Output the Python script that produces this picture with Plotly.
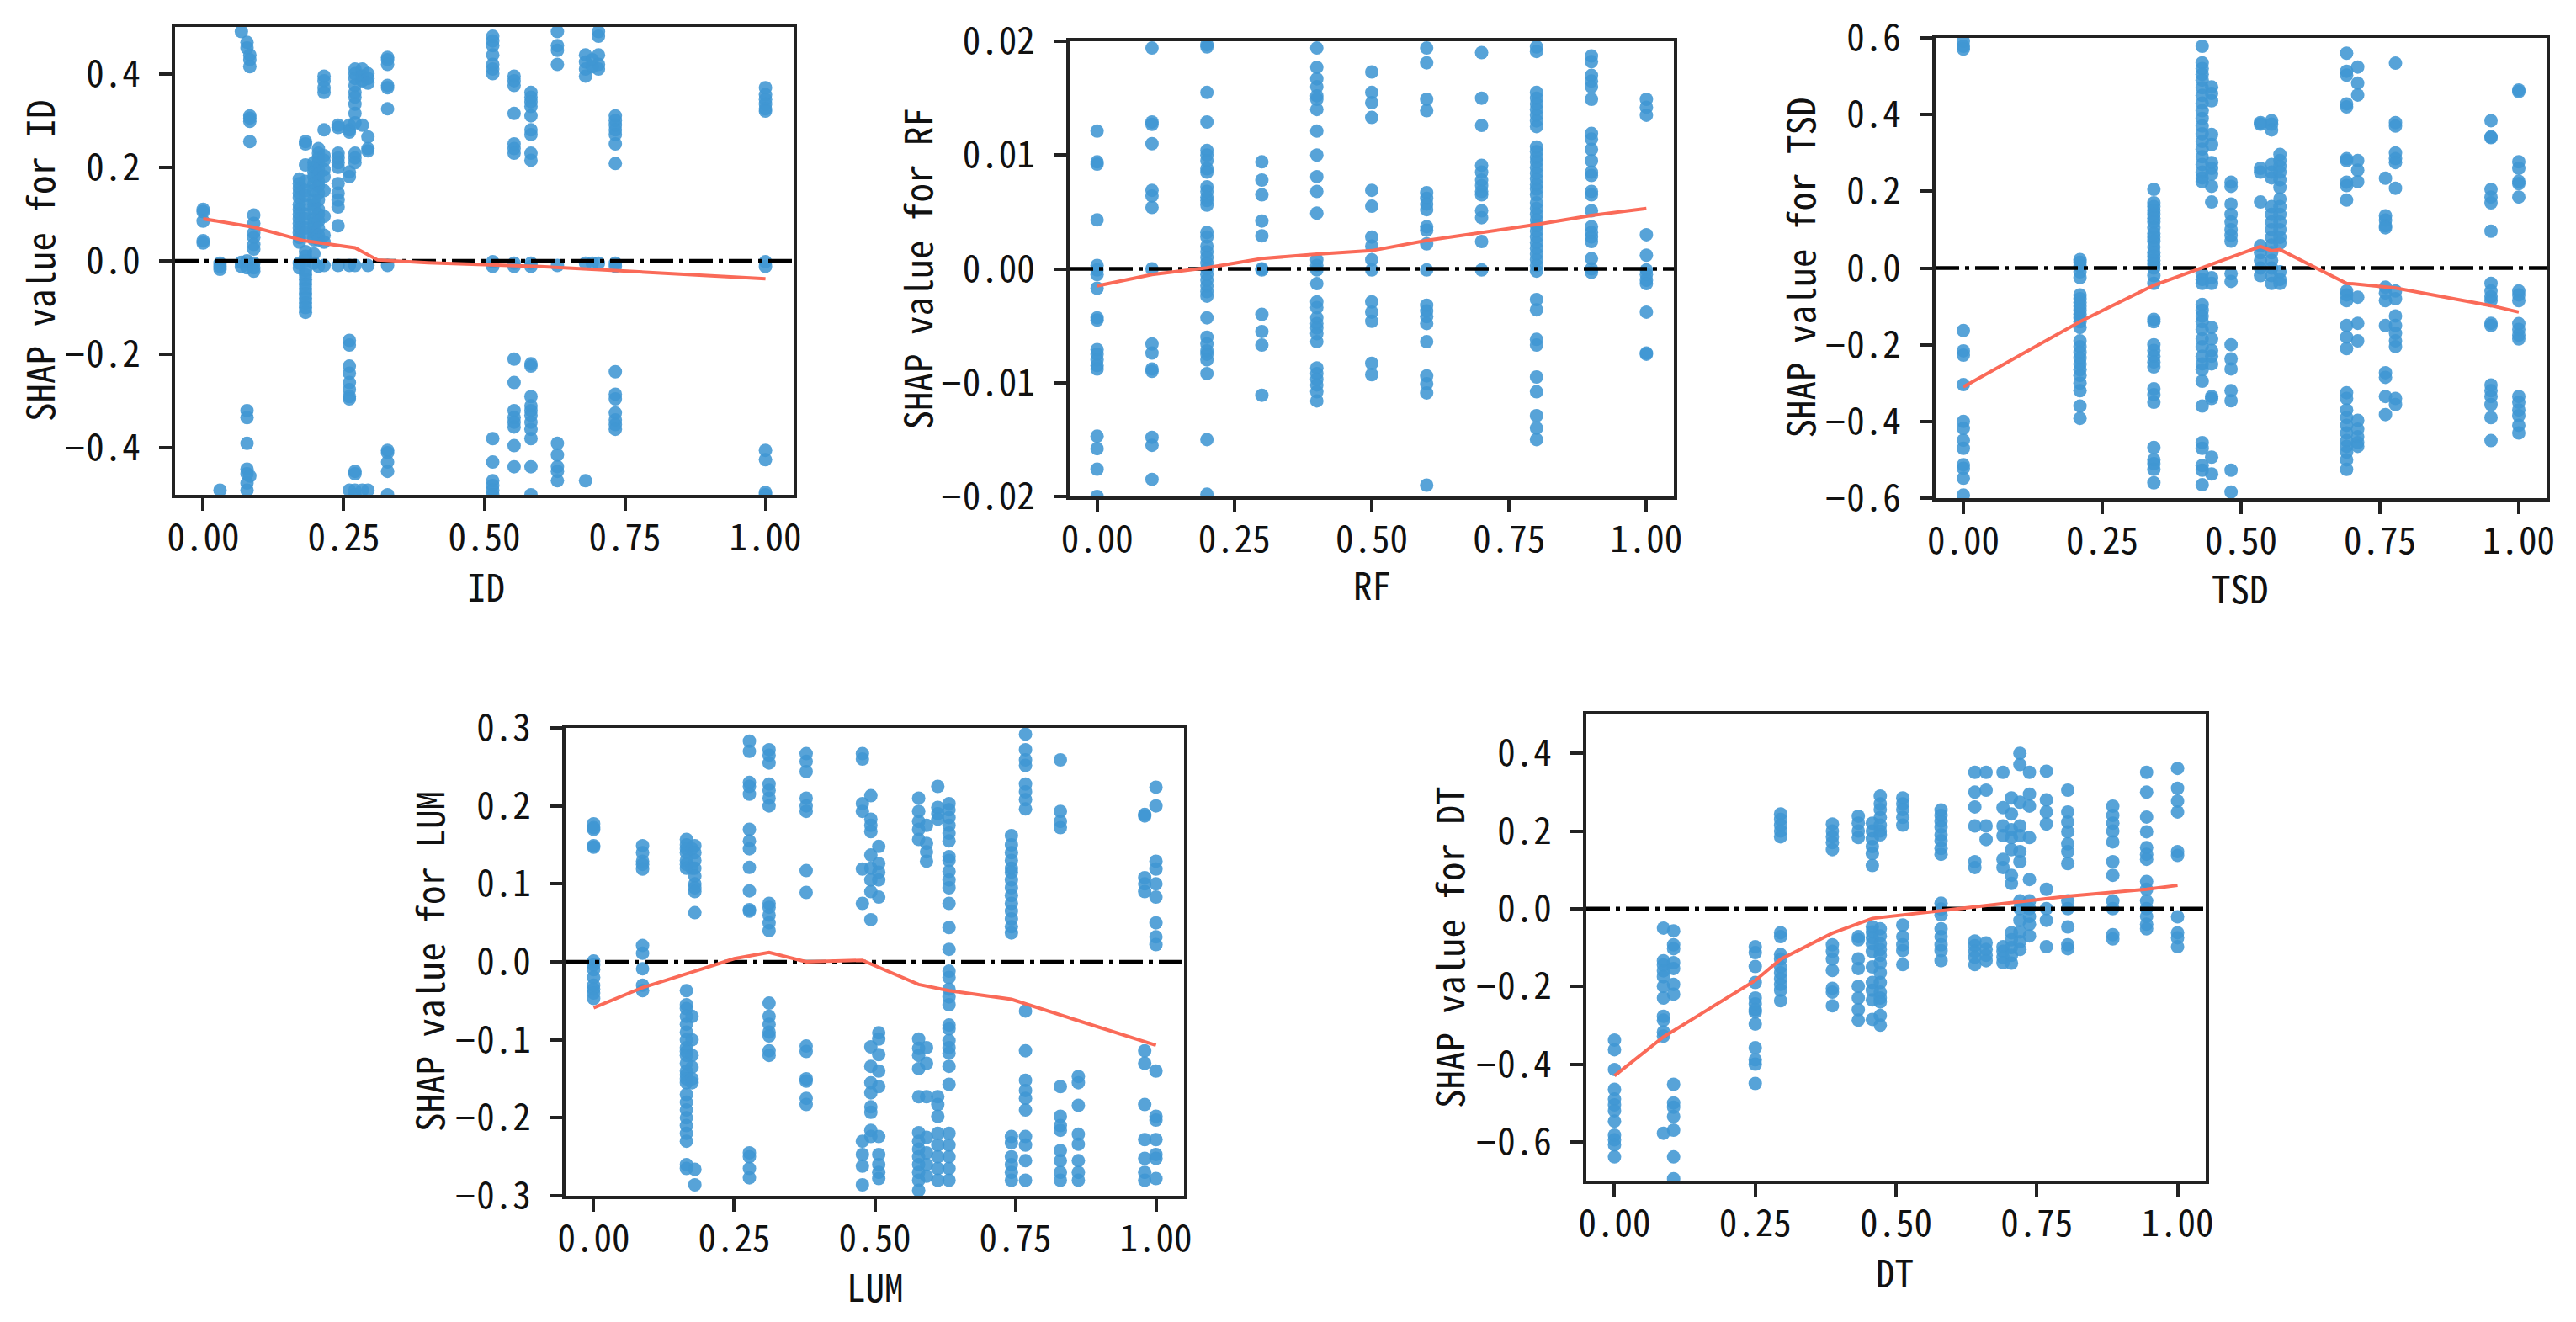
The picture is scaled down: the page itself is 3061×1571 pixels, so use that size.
import plotly.graph_objects as go

W, H = 3061, 1571
FONT = "'Noto Sans Mono CJK SC', 'Liberation Mono', monospace"
DOT = "#4096d3"
RED = "#fa6a58"
MINUS = '<span style="font-family:Liberation Mono">\u2212</span>'

xticks = [0, 0.25, 0.5, 0.75, 1.0]
xtick_text = ["0.00", "0.25", "0.50", "0.75", "1.00"]

# ---------- ID ----------
id_x = [0.0, 0.03, 0.068, 0.078, 0.083, 0.09, 0.171, 0.182, 0.197, 0.205, 0.215, 0.24, 0.26, 0.27, 0.283, 0.293, 0.328, 0.515, 0.553, 0.583, 0.63, 0.68, 0.692, 0.703, 0.733, 1.0]
id_y = [
 [0.11,0.105,0.085,0.043,0.038],
 [-0.005,-0.012,-0.018,-0.49],
 [0.49,-0.003,-0.012],
 [0.467,0.455,-0.32,-0.335,-0.39,-0.445,-0.455,-0.475,-0.49,0.0,-0.015],
 [0.44,0.43,0.415,0.31,0.305,0.298,0.255,-0.46],
 [0.098,0.08,0.06,0.05,0.035,0.025,-0.005,-0.015,-0.022],
 [0.175,0.165,0.155,0.145,0.135,0.12,0.11,0.1,0.09,0.08,0.07,0.06,0.05,0.04,-0.005,-0.015],
 [0.255,0.25,0.205,0.17,0.15,0.14,0.12,0.1,0.09,0.07,0.06,0.02,0.01,0.0,-0.02,-0.03,-0.04,-0.05,-0.06,-0.07,-0.08,-0.09,-0.1,-0.11],
 [0.21,0.2,0.19,0.18,0.165,0.15,0.13,0.12,0.11,0.09,0.08,0.07,0.06,0.05,0.045,0.015,-0.005],
 [0.24,0.23,0.22,0.21,0.195,0.185,0.17,0.16,0.145,0.13,0.11,0.1,0.085,0.07,0.055,0.045,-0.012],
 [0.395,0.385,0.37,0.36,0.28,0.225,0.215,0.195,0.18,0.15,0.095,0.055,0.04,-0.01],
 [0.29,0.285,0.23,0.22,0.21,0.2,0.165,0.145,0.13,0.115,0.075,-0.01],
 [0.29,0.28,0.275,0.19,0.18,-0.01,-0.17,-0.18,-0.225,-0.24,-0.26,-0.275,-0.29,-0.295,-0.49],
 [0.41,0.4,0.39,0.375,0.36,0.35,0.335,0.315,0.295,0.23,0.22,0.21,-0.01,-0.45,-0.455,-0.49,-0.5],
 [0.41,0.395,0.385,0.29,-0.49],
 [0.4,0.39,0.38,0.265,0.24,0.235,-0.01,-0.49],
 [0.435,0.43,0.42,0.375,0.37,0.325,-0.01,-0.405,-0.41,-0.43,-0.45,-0.5],
 [0.48,0.47,0.46,0.44,0.42,0.41,0.40,-0.002,-0.012,-0.38,-0.43,-0.47,-0.48,-0.49,-0.5],
 [0.395,0.385,0.375,0.315,0.25,0.24,0.23,-0.005,-0.012,-0.21,-0.26,-0.32,-0.335,-0.345,-0.355,-0.395,-0.44],
 [0.36,0.35,0.34,0.33,0.31,0.28,0.27,0.23,0.215,-0.005,-0.012,-0.22,-0.225,-0.29,-0.31,-0.32,-0.33,-0.345,-0.36,-0.38,-0.44,-0.5],
 [0.49,0.46,0.45,0.42,-0.01,-0.39,-0.415,-0.44,-0.45,-0.47],
 [0.44,0.425,0.41,0.395,-0.005,-0.47],
 [0.43,0.415,-0.005],
 [0.49,0.48,0.44,0.42,0.41,-0.005],
 [0.31,0.30,0.29,0.28,0.27,0.25,0.208,-0.005,-0.012,-0.237,-0.285,-0.295,-0.325,-0.34,-0.35,-0.36],
 [0.37,0.355,0.345,0.335,0.325,0.32,-0.002,-0.012,-0.405,-0.425,-0.495,-0.5],
]
id_line_x = [0, 0.09, 0.18, 0.27, 0.31, 0.4, 0.6, 0.73, 1.0]
id_line_y = [0.09, 0.072, 0.043, 0.028, 0.002, -0.004, -0.012, -0.021, -0.038]

# ---------- RF ----------
rf_x = [0.0, 0.1, 0.2, 0.3, 0.4, 0.5, 0.6, 0.7, 0.8, 0.9, 1.0]
rf_y = [
 [.0121,.0094,.0092,.0043,.0003,-.0001,-.0005,-.0017,-.0043,-.0045,-.0071,-.0075,-.008,-.0085,-.0088,-.0147,-.0158,-.0176,-.02],
 [.0194,.0129,.0127,.0110,.0069,.0064,.0054,0,-.0066,-.0074,-.0088,-.0090,-.0148,-.0155,-.0185],
 [.0197,.0195,.0155,.0129,.0104,.0100,.0095,.0088,.0085,.0072,.0068,.0063,.006,.0056,.0032,.0028,.002,.0015,.001,.0005,0,-.0005,-.001,-.0015,-.002,-.0024,-.0043,-.006,-.0066,-.0072,-.0075,-.008,-.0092,-.015,-.0198],
 [.0094,.0078,.0065,.0042,.0029,0,-.0001,-.004,-.0055,-.0067,-.0111],
 [.0194,.0177,.0167,.016,.0152,.0149,.014,.0121,.01,.0081,.0068,.0049,.0008,.0003,-.0001,-.0013,-.0029,-.0034,-.0043,-.0048,-.0052,-.0057,-.0064,-.0087,-.0092,-.0097,-.0102,-.0108,-.0116],
 [.0173,.0155,.0146,.0133,.0069,.0055,.0028,.002,.0008,-.0001,-.0029,-.0038,-.0046,-.0083,-.0093],
 [.0194,.0181,.0149,.0139,.0067,.0062,.0057,.0052,.0037,.0034,.0022,-.0001,-.0032,-.0037,-.0042,-.0048,-.0064,-.0094,-.0101,-.0109,-.019],
 [.019,.015,.0126,.0091,.0085,.0078,.0073,.0068,.0065,.0051,.0045,.0024,-.0001],
 [.0195,.0191,.0155,.015,.0145,.014,.0135,.013,.0125,.0107,.0103,.0098,.0094,.0089,.0084,.0079,.0074,.007,.0065,.0058,.0053,.0048,.0043,.0038,.0033,.0028,.0023,.0018,.0013,.0008,.0003,-.0002,-.0027,-.0036,-.0062,-.0067,-.0095,-.0108,-.0129,-.014,-.015],
 [.0187,.0182,.017,.0165,.016,.0149,.0119,.0114,.0105,.0095,.0085,.0082,.0068,.0065,.0051,.0037,.0032,.0028,.0024,.0009,0,-.0003],
 [.0149,.0142,.0135,.003,.0012,-.0001,-.0005,-.001,-.0013,-.0038,-.0074,-.0075],
]
rf_line_x = [0, 0.1, 0.2, 0.3, 0.4, 0.5, 0.6, 0.7, 0.8, 0.9, 1.0]
rf_line_y = [-.0015, -.0005, .0001, .0009, .0013, .0016, .0025, .0032, .0039, .0047, .0053]

# ---------- TSD ----------
tsd_x = [0.0, 0.21, 0.343, 0.43, 0.447, 0.482, 0.535, 0.555, 0.57, 0.69, 0.71, 0.76, 0.778, 0.95, 1.0]
tsd_y = [
 [.591,.578,.571,-.163,-.216,-.227,-.304,-.40,-.418,-.449,-.47,-.513,-.522,-.548,-.592],
 [.022,.015,.005,-.01,-.025,-.07,-.08,-.09,-.10,-.11,-.12,-.13,-.14,-.155,-.19,-.205,-.22,-.235,-.25,-.265,-.28,-.30,-.32,-.36,-.392],
 [.205,.17,.16,.15,.14,.13,.12,.105,.09,.08,.07,.055,.04,.03,.02,.01,0,-.02,-.04,-.134,-.14,-.2,-.215,-.23,-.245,-.258,-.315,-.33,-.35,-.468,-.5,-.51,-.525,-.56],
 [.578,.535,.52,.505,.49,.47,.45,.43,.41,.39,.37,.35,.33,.31,.29,.27,.25,.235,.225,-.015,-.03,-.04,-.095,-.11,-.125,-.14,-.16,-.185,-.205,-.23,-.25,-.265,-.295,-.36,-.455,-.47,-.515,-.527,-.565],
 [.472,.455,.436,.348,.322,.275,.26,.245,.213,.172,-.025,-.04,-.155,-.185,-.215,-.23,-.25,-.335,-.34,-.493,-.537],
 [.224,.213,.167,.14,.12,.10,.085,.07,-.015,-.035,-.2,-.237,-.263,-.32,-.346,-.527,-.584],
 [.379,.375,.26,.25,.172,.058,.04,.02,.0,-.02],
 [.384,.375,.36,.27,.25,.235,.16,.14,.12,.10,.08,.06,.04,.02,0,-.02,-.04],
 [.296,.28,.265,.25,.23,.21,.18,.16,.14,.12,.10,.08,.065,-.01,-.03,-.04],
 [.56,.513,.503,.428,.42,.285,.28,.224,.215,.177,-.06,-.07,-.085,-.15,-.18,-.21,-.325,-.34,-.37,-.39,-.41,-.43,-.45,-.465,-.48,-.50,-.525],
 [.524,.482,.451,.28,.255,.225,-.076,-.144,-.19,-.397,-.42,-.44,-.455,-.465],
 [.234,.136,.125,.11,.105,-.05,-.065,-.085,-.15,-.273,-.285,-.335,-.382],
 [.534,.379,.37,.30,.285,.275,.208,-.06,-.08,-.125,-.15,-.17,-.19,-.205,-.34,-.356],
 [.384,.342,.34,.205,.185,.17,.096,-.04,-.06,-.075,-.085,-.144,-.15,-.305,-.32,-.335,-.356,-.39,-.45],
 [.464,.46,.277,.26,.226,.22,.185,-.06,-.07,-.085,-.145,-.16,-.175,-.185,-.335,-.35,-.37,-.385,-.41,-.43],
]
tsd_line_x = [0, 0.21, 0.343, 0.43, 0.535, 0.555, 0.57, 0.69, 0.71, 0.778, 0.95, 1.0]
tsd_line_y = [-.31, -.14, -.045, 0.0, .056, .045, .048, -.04, -.042, -.052, -.098, -.115]

# ---------- LUM ----------
lum_x = [0.0, 0.087, 0.165, 0.175, 0.18, 0.277, 0.312, 0.378, 0.478, 0.493, 0.507, 0.578, 0.592, 0.612, 0.632, 0.743, 0.768, 0.83, 0.862, 0.98, 1.0]
lum_y = [
 [.177,.172,.17,.149,.147,.001,-.004,-.01,-.02,-.03,-.035,-.04,-.047],
 [.149,.14,.129,.125,.119,.021,.011,-.009,-.03,-.037],
 [.157,.15,.145,.14,.13,.125,.12,-.037,-.055,-.06,-.07,-.08,-.09,-.1,-.11,-.115,-.12,-.13,-.14,-.145,-.15,-.155,-.17,-.18,-.19,-.2,-.21,-.22,-.23,-.26,-.265],
 [.145,.12,-.07,-.1,-.12,-.135,-.15,-.155],
 [.149,.14,.13,.12,.11,.1,.095,.09,.063,-.266,-.286],
 [.283,.27,.23,.225,.215,.17,.155,.145,.121,.091,.067,.065,-.245,-.25,-.265,-.277],
 [.272,.265,.255,.228,.22,.21,.2,.075,.07,.06,.05,.04,-.053,-.07,-.08,-.09,-.095,-.114,-.12],
 [.267,.257,.244,.21,.2,.193,.117,.089,-.108,-.115,-.15,-.153,-.175,-.183],
 [.267,.26,.203,.193,.119,.075,-.23,-.247,-.262,-.286],
 [.213,.183,.175,.167,.137,.12,.105,.09,.054,-.109,-.134,-.155,-.168,-.186,-.193,-.216,-.224],
 [.148,.126,.115,.105,.083,-.091,-.099,-.119,-.14,-.16,-.224,-.247,-.26,-.27,-.278],
 [.21,.193,.18,.17,.157,-.099,-.111,-.12,-.137,-.173,-.219,-.23,-.24,-.25,-.26,-.27,-.28,-.293],
 [.175,.152,.141,.129,-.11,-.13,-.173,-.225,-.245,-.26,-.275],
 [.225,.198,.19,.183,-.173,-.183,-.198,-.22,-.235,-.25,-.265,-.28],
 [.203,.195,.185,.175,.165,.155,.135,.13,.116,.105,.095,.075,.044,.016,-.012,-.02,-.035,-.045,-.055,-.081,-.086,-.101,-.11,-.117,-.134,-.157,-.22,-.235,-.25,-.265,-.28],
 [.162,.15,.14,.13,.12,.115,.105,.095,.085,.075,.065,.055,.045,.037,-.224,-.232,-.25,-.26,-.27,-.28],
 [.292,.272,.259,.252,.228,.218,.208,.196,-.063,-.114,-.152,-.165,-.175,-.19,-.224,-.235,-.255,-.28],
 [.259,.193,.18,.172,-.16,-.198,-.21,-.216,-.242,-.255,-.27,-.28],
 [-.147,-.155,-.184,-.221,-.234,-.255,-.27,-.28],
 [.189,.187,.108,.1,.09,-.114,-.13,-.183,-.228,-.252,-.27,-.28],
 [.224,.2,.129,.119,.1,.083,.05,.032,.022,-.14,-.198,-.203,-.228,-.247,-.252,-.278],
]
lum_line_x = [0, 0.087, 0.18, 0.25, 0.312, 0.378, 0.478, 0.578, 0.632, 0.743, 0.86, 1.0]
lum_line_y = [-.059, -.033, -.012, .004, .012, .0, .002, -.029, -.037, -.048, -.075, -.107]

# ---------- DT ----------
dt_x = [0.0, 0.087, 0.105, 0.25, 0.295, 0.387, 0.433, 0.458, 0.472, 0.512, 0.58, 0.64, 0.66, 0.69, 0.705, 0.72, 0.737, 0.767, 0.805, 0.885, 0.945, 1.0]
dt_y = [
 [-.338,-.363,-.414,-.465,-.49,-.505,-.52,-.547,-.583,-.595,-.608,-.639],
 [-.05,-.134,-.145,-.16,-.175,-.2,-.23,-.277,-.287,-.317,-.328,-.578],
 [-.057,-.093,-.103,-.139,-.154,-.195,-.22,-.452,-.5,-.511,-.535,-.57,-.639,-.695],
 [-.098,-.113,-.149,-.19,-.23,-.245,-.26,-.266,-.297,-.358,-.389,-.4,-.45],
 [.244,.23,.215,.2,.185,-.062,-.072,-.118,-.13,-.15,-.165,-.18,-.195,-.21,-.237],
 [.218,.2,.185,.17,.152,-.093,-.11,-.13,-.159,-.205,-.215,-.25],
 [.238,.22,.2,.183,-.072,-.08,-.129,-.154,-.2,-.23,-.26,-.287],
 [.22,.2,.18,.16,.142,.111,-.047,-.06,-.075,-.09,-.11,-.15,-.19,-.21,-.235,-.285],
 [.29,.27,.255,.235,.215,.2,.19,-.052,-.07,-.09,-.105,-.12,-.14,-.165,-.19,-.215,-.23,-.24,-.275,-.3],
 [.285,.27,.255,.235,.215,-.042,-.072,-.093,-.108,-.144],
 [.254,.24,.225,.21,.19,.175,.155,.14,.014,-.001,-.016,-.052,-.072,-.093,-.108,-.134],
 [.351,.3,.262,.213,.121,.106,-.083,-.095,-.11,-.125,-.144],
 [.351,.305,.213,.178,-.088,-.105,-.12,-.134],
 [.351,.26,.213,.188,.127,.106,-.098,-.11,-.125,-.139],
 [.285,.244,.203,.183,.152,.086,.065,-.062,-.08,-.1,-.12,-.14],
 [.4,.371,.274,.213,.188,.147,.121,.02,0,-.03,-.06,-.085,-.105],
 [.351,.295,.264,.183,.075,.02,0,-.02,-.04,-.07],
 [.354,.28,.249,.218,.05,0,-.03,-.098],
 [.305,.249,.223,.198,.167,.147,.116,.02,0,-.047,-.093,-.103],
 [.264,.24,.22,.2,.172,.121,.086,.02,0,-.067,-.078],
 [.351,.3,.236,.198,.157,.14,.127,.07,.05,.02,0,-.02,-.04,-.052],
 [.361,.31,.277,.249,.147,.137,-.021,-.062,-.075,-.098],
]
dt_line_x = [0, 0.087, 0.25, 0.295, 0.387, 0.458, 0.58, 0.72, 0.805, 0.945, 1.0]
dt_line_y = [-.43, -.33, -.185, -.13, -.063, -.025, -.005, .018, .032, .05, .06]

# Panel frames in page pixels, y ticks and labels
panels = [
 dict(name="ID",  cols=id_x,  vals=id_y,  lx=id_line_x,  ly=id_line_y,  box=(208, 943, 32, 588), yr=(-0.5, 0.5),
      yt=[-0.4,-0.2,0,0.2,0.4], ytt=[MINUS+"0.4",MINUS+"0.2","0.0","0.2","0.4"], tx=45, nx=577, ny=695),
 dict(name="RF",  cols=rf_x,  vals=rf_y,  lx=rf_line_x,  ly=rf_line_y,  box=(1271, 1989, 49, 590), yr=(-0.02, 0.02),
      yt=[-0.02,-0.01,0,0.01,0.02], ytt=[MINUS+"0.02",MINUS+"0.01","0.00","0.01","0.02"], tx=1088, nx=1630, ny=693),
 dict(name="TSD", cols=tsd_x, vals=tsd_y, lx=tsd_line_x, ly=tsd_line_y, box=(2300, 3026, 45, 592), yr=(-0.6, 0.6),
      yt=[-0.6,-0.4,-0.2,0,0.2,0.4,0.6], ytt=[MINUS+"0.6",MINUS+"0.4",MINUS+"0.2","0.0","0.2","0.4","0.6"], tx=2137, nx=2662, ny=698),
 dict(name="LUM", cols=lum_x, vals=lum_y, lx=lum_line_x, ly=lum_line_y, box=(672, 1407, 865, 1421), yr=(-0.3, 0.3),
      yt=[-0.3,-0.2,-0.1,0,0.1,0.2,0.3], ytt=[MINUS+"0.3",MINUS+"0.2",MINUS+"0.1","0.0","0.1","0.2","0.3"], tx=508, nx=1040, ny=1527),
 dict(name="DT",  cols=dt_x,  vals=dt_y,  lx=dt_line_x,  ly=dt_line_y,  box=(1885, 2621, 849, 1403), yr=(-0.7, 0.5),
      yt=[-0.6,-0.4,-0.2,0,0.2,0.4], ytt=[MINUS+"0.6",MINUS+"0.4",MINUS+"0.2","0.0","0.2","0.4"], tx=1720, nx=2251, ny=1510),
]

fig = go.Figure()
annotations = []
layout = dict(width=W, height=H, margin=dict(l=0, r=0, t=0, b=0), autosize=False,
              paper_bgcolor="white", plot_bgcolor="white", showlegend=False,
              font=dict(family=FONT, size=43, color="#111111"))

for i, p in enumerate(panels, start=1):
    sx = "" if i == 1 else str(i)
    xs, ys = [], []
    for c, v in zip(p["cols"], p["vals"]):
        xs += [c] * len(v)
        ys += v
    fig.add_trace(go.Scatter(x=xs, y=ys, xaxis="x" + sx, yaxis="y" + sx, mode="markers",
                             marker=dict(color=DOT, size=16, opacity=0.88, line=dict(width=0))))
    fig.add_trace(go.Scatter(x=[-0.05, 1.05], y=[0, 0], xaxis="x" + sx, yaxis="y" + sx, mode="lines",
                             line=dict(color="black", width=4.5, dash="28px,7px,5px,7px")))
    fig.add_trace(go.Scatter(x=p["lx"], y=p["ly"], xaxis="x" + sx, yaxis="y" + sx, mode="lines",
                             line=dict(color=RED, width=4)))
    l, r, t, b = p["box"]
    common = dict(showline=True, mirror=True, linecolor="#222222", linewidth=3.5, showgrid=False,
                  zeroline=False, ticks="outside", ticklen=15, tickwidth=3.5, tickcolor="#222222",
                  tickfont=dict(family=FONT, size=43, color="#111111"), automargin=False)
    layout["xaxis" + sx] = dict(domain=[l / W, r / W], range=[-0.05, 1.05], anchor="y" + sx,
                                tickmode="array", tickvals=xticks, ticktext=xtick_text, ticklabelstandoff=-4,
                                **common)
    layout["yaxis" + sx] = dict(domain=[1 - b / H, 1 - t / H], range=list(p["yr"]), anchor="x" + sx,
                                tickmode="array", tickvals=p["yt"], ticktext=p["ytt"], ticklabelstandoff=14,
                                **common)
    annotations.append(dict(text="SHAP value for " + p["name"], textangle=-90, showarrow=False,
                            xref="paper", yref="paper", x=p["tx"] / W, y=1 - (t + b) / 2 / H,
                            xanchor="center", yanchor="middle",
                            font=dict(family=FONT, size=45, color="#111111")))
    annotations.append(dict(text=p["name"], showarrow=False,
                            xref="paper", yref="paper", x=p["nx"] / W, y=1 - p["ny"] / H,
                            xanchor="center", yanchor="middle",
                            font=dict(family=FONT, size=45, color="#111111")))

layout["annotations"] = annotations
fig.update_layout(**layout)
fig.write_html("out.html", config={"displayModeBar": False},
               post_script="document.body.style.margin='0';document.documentElement.style.overflow='hidden';")
